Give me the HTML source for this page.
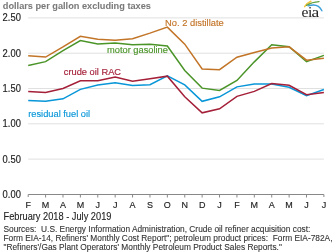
<!DOCTYPE html>
<html><head><meta charset="utf-8"><style>
html,body{margin:0;padding:0;background:#fff;}
body{width:332px;height:252px;overflow:hidden;position:relative;}
svg{position:absolute;left:0;top:0;filter:blur(0.35px);}
</style></head><body>
<svg width="332" height="252" viewBox="0 0 332 252">
<text transform="translate(2.80 8.80) scale(1 1.04)" text-anchor="start" style="font-family:'Liberation Sans',sans-serif;font-size:9.2px;font-weight:bold;fill:#7a7a7a;stroke:#7a7a7a;stroke-width:0.05px">dollars per gallon excluding taxes</text>
<line x1="28.2" x2="323.9" y1="17.9" y2="17.9" stroke="#e0e0e0" stroke-width="1"/>
<line x1="28.2" x2="323.9" y1="53.2" y2="53.2" stroke="#e0e0e0" stroke-width="1"/>
<line x1="28.2" x2="323.9" y1="88.5" y2="88.5" stroke="#e0e0e0" stroke-width="1"/>
<line x1="28.2" x2="323.9" y1="123.8" y2="123.8" stroke="#e0e0e0" stroke-width="1"/>
<line x1="28.2" x2="323.9" y1="159.1" y2="159.1" stroke="#e0e0e0" stroke-width="1"/>
<path d="M28.2 197 V194.5 H323.9 V197" fill="none" stroke="#888" stroke-width="1"/>
<line x1="45.59" x2="45.59" y1="194.5" y2="197.5" stroke="#888" stroke-width="1"/>
<line x1="62.99" x2="62.99" y1="194.5" y2="197.5" stroke="#888" stroke-width="1"/>
<line x1="80.38" x2="80.38" y1="194.5" y2="197.5" stroke="#888" stroke-width="1"/>
<line x1="97.78" x2="97.78" y1="194.5" y2="197.5" stroke="#888" stroke-width="1"/>
<line x1="115.17" x2="115.17" y1="194.5" y2="197.5" stroke="#888" stroke-width="1"/>
<line x1="132.56" x2="132.56" y1="194.5" y2="197.5" stroke="#888" stroke-width="1"/>
<line x1="149.96" x2="149.96" y1="194.5" y2="197.5" stroke="#888" stroke-width="1"/>
<line x1="167.35" x2="167.35" y1="194.5" y2="197.5" stroke="#888" stroke-width="1"/>
<line x1="184.75" x2="184.75" y1="194.5" y2="197.5" stroke="#888" stroke-width="1"/>
<line x1="202.14" x2="202.14" y1="194.5" y2="197.5" stroke="#888" stroke-width="1"/>
<line x1="219.54" x2="219.54" y1="194.5" y2="197.5" stroke="#888" stroke-width="1"/>
<line x1="236.93" x2="236.93" y1="194.5" y2="197.5" stroke="#888" stroke-width="1"/>
<line x1="254.32" x2="254.32" y1="194.5" y2="197.5" stroke="#888" stroke-width="1"/>
<line x1="271.72" x2="271.72" y1="194.5" y2="197.5" stroke="#888" stroke-width="1"/>
<line x1="289.11" x2="289.11" y1="194.5" y2="197.5" stroke="#888" stroke-width="1"/>
<line x1="306.51" x2="306.51" y1="194.5" y2="197.5" stroke="#888" stroke-width="1"/>
<text transform="translate(2.60 21.30) scale(1 1.12)" text-anchor="start" style="font-family:'Liberation Sans',sans-serif;font-size:9.4px;font-weight:normal;fill:#222;stroke:#222;stroke-width:0.15px">2.50</text>
<text transform="translate(2.60 56.60) scale(1 1.12)" text-anchor="start" style="font-family:'Liberation Sans',sans-serif;font-size:9.4px;font-weight:normal;fill:#222;stroke:#222;stroke-width:0.15px">2.00</text>
<text transform="translate(2.60 91.90) scale(1 1.12)" text-anchor="start" style="font-family:'Liberation Sans',sans-serif;font-size:9.4px;font-weight:normal;fill:#222;stroke:#222;stroke-width:0.15px">1.50</text>
<text transform="translate(2.60 127.20) scale(1 1.12)" text-anchor="start" style="font-family:'Liberation Sans',sans-serif;font-size:9.4px;font-weight:normal;fill:#222;stroke:#222;stroke-width:0.15px">1.00</text>
<text transform="translate(2.60 162.50) scale(1 1.12)" text-anchor="start" style="font-family:'Liberation Sans',sans-serif;font-size:9.4px;font-weight:normal;fill:#222;stroke:#222;stroke-width:0.15px">0.50</text>
<text transform="translate(2.60 197.80) scale(1 1.12)" text-anchor="start" style="font-family:'Liberation Sans',sans-serif;font-size:9.4px;font-weight:normal;fill:#222;stroke:#222;stroke-width:0.15px">0.00</text>
<text transform="translate(28.20 207.80) scale(1 1.1)" text-anchor="middle" style="font-family:'Liberation Sans',sans-serif;font-size:9px;font-weight:normal;fill:#222;stroke:#222;stroke-width:0.15px">F</text>
<text transform="translate(45.59 207.80) scale(1 1.1)" text-anchor="middle" style="font-family:'Liberation Sans',sans-serif;font-size:9px;font-weight:normal;fill:#222;stroke:#222;stroke-width:0.15px">M</text>
<text transform="translate(62.99 207.80) scale(1 1.1)" text-anchor="middle" style="font-family:'Liberation Sans',sans-serif;font-size:9px;font-weight:normal;fill:#222;stroke:#222;stroke-width:0.15px">A</text>
<text transform="translate(80.38 207.80) scale(1 1.1)" text-anchor="middle" style="font-family:'Liberation Sans',sans-serif;font-size:9px;font-weight:normal;fill:#222;stroke:#222;stroke-width:0.15px">M</text>
<text transform="translate(97.78 207.80) scale(1 1.1)" text-anchor="middle" style="font-family:'Liberation Sans',sans-serif;font-size:9px;font-weight:normal;fill:#222;stroke:#222;stroke-width:0.15px">J</text>
<text transform="translate(115.17 207.80) scale(1 1.1)" text-anchor="middle" style="font-family:'Liberation Sans',sans-serif;font-size:9px;font-weight:normal;fill:#222;stroke:#222;stroke-width:0.15px">J</text>
<text transform="translate(132.56 207.80) scale(1 1.1)" text-anchor="middle" style="font-family:'Liberation Sans',sans-serif;font-size:9px;font-weight:normal;fill:#222;stroke:#222;stroke-width:0.15px">A</text>
<text transform="translate(149.96 207.80) scale(1 1.1)" text-anchor="middle" style="font-family:'Liberation Sans',sans-serif;font-size:9px;font-weight:normal;fill:#222;stroke:#222;stroke-width:0.15px">S</text>
<text transform="translate(167.35 207.80) scale(1 1.1)" text-anchor="middle" style="font-family:'Liberation Sans',sans-serif;font-size:9px;font-weight:normal;fill:#222;stroke:#222;stroke-width:0.15px">O</text>
<text transform="translate(184.75 207.80) scale(1 1.1)" text-anchor="middle" style="font-family:'Liberation Sans',sans-serif;font-size:9px;font-weight:normal;fill:#222;stroke:#222;stroke-width:0.15px">N</text>
<text transform="translate(202.14 207.80) scale(1 1.1)" text-anchor="middle" style="font-family:'Liberation Sans',sans-serif;font-size:9px;font-weight:normal;fill:#222;stroke:#222;stroke-width:0.15px">D</text>
<text transform="translate(219.54 207.80) scale(1 1.1)" text-anchor="middle" style="font-family:'Liberation Sans',sans-serif;font-size:9px;font-weight:normal;fill:#222;stroke:#222;stroke-width:0.15px">J</text>
<text transform="translate(236.93 207.80) scale(1 1.1)" text-anchor="middle" style="font-family:'Liberation Sans',sans-serif;font-size:9px;font-weight:normal;fill:#222;stroke:#222;stroke-width:0.15px">F</text>
<text transform="translate(254.32 207.80) scale(1 1.1)" text-anchor="middle" style="font-family:'Liberation Sans',sans-serif;font-size:9px;font-weight:normal;fill:#222;stroke:#222;stroke-width:0.15px">M</text>
<text transform="translate(271.72 207.80) scale(1 1.1)" text-anchor="middle" style="font-family:'Liberation Sans',sans-serif;font-size:9px;font-weight:normal;fill:#222;stroke:#222;stroke-width:0.15px">A</text>
<text transform="translate(289.11 207.80) scale(1 1.1)" text-anchor="middle" style="font-family:'Liberation Sans',sans-serif;font-size:9px;font-weight:normal;fill:#222;stroke:#222;stroke-width:0.15px">M</text>
<text transform="translate(306.51 207.80) scale(1 1.1)" text-anchor="middle" style="font-family:'Liberation Sans',sans-serif;font-size:9px;font-weight:normal;fill:#222;stroke:#222;stroke-width:0.15px">J</text>
<text transform="translate(323.90 207.80) scale(1 1.1)" text-anchor="middle" style="font-family:'Liberation Sans',sans-serif;font-size:9px;font-weight:normal;fill:#222;stroke:#222;stroke-width:0.15px">J</text>
<polyline points="28.20,100.45 45.59,101.35 62.99,98.85 80.38,89.35 97.78,84.95 115.17,82.85 132.56,85.45 149.96,84.75 167.35,75.95 184.75,84.95 202.14,101.35 219.54,96.85 236.93,86.85 254.32,83.95 271.72,83.95 289.11,87.25 306.51,95.65 323.90,89.55" fill="none" stroke="#0896d8" stroke-width="1.5" stroke-linejoin="miter" stroke-miterlimit="3"/>
<polyline points="28.20,91.45 45.59,92.45 62.99,88.45 80.38,80.85 97.78,80.85 115.17,77.05 132.56,81.35 149.96,78.65 167.35,76.15 184.75,96.75 202.14,112.85 219.54,108.85 236.93,96.35 254.32,91.35 271.72,83.45 289.11,85.25 306.51,94.75 323.90,92.55" fill="none" stroke="#a41f38" stroke-width="1.5" stroke-linejoin="miter" stroke-miterlimit="3"/>
<polyline points="28.20,65.55 45.59,61.65 62.99,50.65 80.38,40.55 97.78,43.95 115.17,42.95 132.56,44.75 149.96,44.35 167.35,45.95 184.75,70.55 202.14,88.15 219.54,90.45 236.93,80.45 254.32,61.85 271.72,44.75 289.11,46.75 306.51,61.75 323.90,55.35" fill="none" stroke="#4a9428" stroke-width="1.5" stroke-linejoin="miter" stroke-miterlimit="3"/>
<polyline points="28.20,55.85 45.59,57.05 62.99,46.95 80.38,36.25 97.78,39.15 115.17,40.25 132.56,38.65 149.96,33.15 167.35,27.15 184.75,44.15 202.14,69.05 219.54,69.65 236.93,57.25 254.32,52.55 271.72,47.95 289.11,46.85 306.51,60.15 323.90,58.35" fill="none" stroke="#c27427" stroke-width="1.5" stroke-linejoin="miter" stroke-miterlimit="3"/>
<text transform="translate(165.10 25.80) scale(1 1.04)" text-anchor="start" style="font-family:'Liberation Sans',sans-serif;font-size:9.35px;font-weight:normal;fill:#c27427;stroke:#c27427;stroke-width:0.15px">No. 2 distillate</text>
<text transform="translate(107.00 52.70) scale(1 1.04)" text-anchor="start" style="font-family:'Liberation Sans',sans-serif;font-size:9.3px;font-weight:normal;fill:#4a9428;stroke:#4a9428;stroke-width:0.15px">motor gasoline</text>
<text transform="translate(63.80 74.60) scale(1 1.04)" text-anchor="start" style="font-family:'Liberation Sans',sans-serif;font-size:9.3px;font-weight:normal;fill:#a41f38;stroke:#a41f38;stroke-width:0.15px">crude oil RAC</text>
<text transform="translate(28.20 116.90) scale(1 1.04)" text-anchor="start" style="font-family:'Liberation Sans',sans-serif;font-size:9.3px;font-weight:normal;fill:#0896d8;stroke:#0896d8;stroke-width:0.15px">residual fuel oil</text>
<text transform="translate(3.50 220.00) scale(1 1.1)" text-anchor="start" style="font-family:'Liberation Sans',sans-serif;font-size:9.25px;font-weight:normal;fill:#222;stroke:#222;stroke-width:0.1px">February 2018 - July 2019</text>
<text transform="translate(3.50 232.00) scale(1 1.1)" text-anchor="start" style="font-family:'Liberation Sans',sans-serif;font-size:8.35px;font-weight:normal;fill:#333;stroke:#333;stroke-width:0.1px">Sources:&#160; U.S. Energy Information Administration, Crude oil refiner acquisition cost:</text>
<text transform="translate(3.50 241.10) scale(1 1.1)" text-anchor="start" style="font-family:'Liberation Sans',sans-serif;font-size:8.35px;font-weight:normal;fill:#333;stroke:#333;stroke-width:0.1px">Form EIA-14, Refiners' Monthly Cost Report"; petroleum product prices:&#160; Form EIA-782A,</text>
<text transform="translate(3.50 250.20) scale(1 1.1)" text-anchor="start" style="font-family:'Liberation Sans',sans-serif;font-size:8.35px;font-weight:normal;fill:#333;stroke:#333;stroke-width:0.1px">"Refiners'/Gas Plant Operators' Monthly Petroleum Product Sales Reports."</text>
<path d="M304.6 6.6 Q306.9 3 310.9 1.2" fill="none" stroke="#f3c640" stroke-width="1.5" stroke-linecap="round"/>
<path d="M306.6 5.3 Q312 2.0 319 1.6" fill="none" stroke="#64a244" stroke-width="1.4" stroke-linecap="round"/>
<path d="M308.3 5.9 Q318 2.6 321.9 10.8" fill="none" stroke="#3a9edb" stroke-width="1.4" stroke-linecap="round"/>
<text transform="translate(301.60 16.70) scale(1 1.0)" text-anchor="start" style="font-family:'Liberation Serif',serif;font-size:15.5px;font-weight:normal;fill:#222;stroke:#222;stroke-width:0px">e</text>
<text transform="translate(307.90 16.70) scale(1 1.0)" text-anchor="start" style="font-family:'Liberation Serif',serif;font-size:15.5px;font-weight:normal;fill:#222;stroke:#222;stroke-width:0px">i</text>
<text transform="translate(311.4 16.7) scale(1.12 1)" style="font-family:'Liberation Serif',serif;font-size:15.5px;fill:#222">a</text>
</svg>
</body></html>
